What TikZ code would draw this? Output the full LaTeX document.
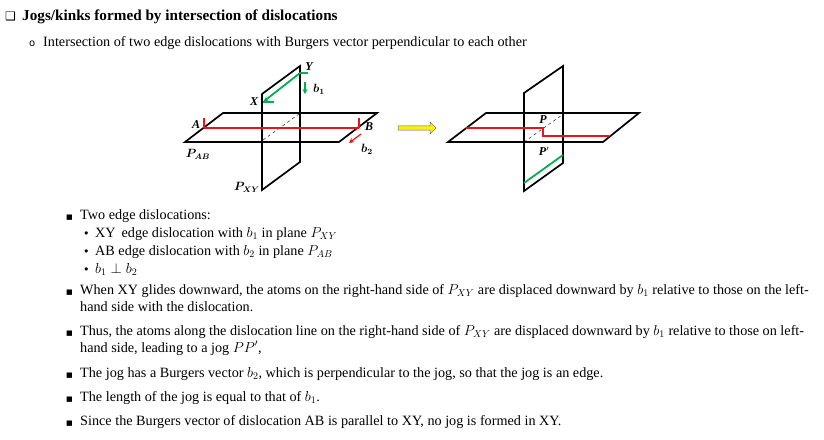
\documentclass[tikz,border=0pt]{standalone}
\usepackage{amsmath,bm}
\usepackage{fontspec}
\setmainfont{Liberation Serif}
\newfontfamily\symf{DejaVu Sans}
\usetikzlibrary{arrows.meta,shapes.arrows}
\definecolor{gr}{RGB}{0,176,80}
\definecolor{rd}{RGB}{235,20,20}
\tikzset{x=1pt,y=-1pt,
 pl/.style={draw=black,line width=1.7pt,line join=miter},
 gl/.style={draw=gr,line width=1.8pt},
 rl/.style={draw=rd,line width=1.8pt},
 lab/.style={font=\fontsize{12}{12}\selectfont\bfseries\itshape,inner sep=0pt},
 tx/.style={anchor=base west,inner sep=0pt,font=\fontsize{14.2}{17}\selectfont,align=left},
 bl/.style={anchor=base west,inner sep=0pt,font=\fontsize{7}{10}\symf}}
\begin{document}
\begin{tikzpicture}
\useasboundingbox (0,0) rectangle (824,439);
% heading
\node[bl,font=\fontsize{12}{12}\symf] (h0) at (5,20) {❑};
\node[tx,font=\fontsize{15.2}{17}\selectfont\bfseries] (h1) at (22,20) {Jogs/kinks formed by intersection of dislocations};
\node[bl,font=\fontsize{10}{10}\symf] (s0) at (29,46) {o};
\node[tx] (s1) at (43,46) {Intersection of two edge dislocations with Burgers vector perpendicular to each other};
% left diagram
\coordinate (v1) at (262,94); \coordinate (v2) at (300,66); \coordinate (v3) at (300,162); \coordinate (v4) at (262,190);
\coordinate (h1a) at (223,113); \coordinate (h2) at (377,113); \coordinate (h3) at (339,142); \coordinate (h4) at (185,142);
\draw[pl] (h1a) -- (h2) -- (h3) -- (h4) -- cycle;
\draw[pl] (v1) -- (v2) -- (v3) -- (v4) -- cycle;
\coordinate (d1) at (263,140); \coordinate (d2) at (299,114);
\draw[dashed,thin] (d1) -- (d2);
\coordinate (A) at (204,128); \coordinate (B) at (359,128);
\draw[rl] (A) -- (B);
\draw[rl] (A) -- ++(0,-10); \draw[rl] (B) -- ++(0,-10);
\coordinate (Y) at (300,73); \coordinate (X) at (263,102);
\draw[gl,-{Stealth[length=6pt]}] (Y) -- (X);
\draw[gl] (Y) -- ++(8,0); \draw[gl] (X) -- ++(11,0);
\coordinate (b1s) at (305,82); \coordinate (b1e) at (305,94);
\draw[gl,line width=1.2pt,-{Stealth[length=5pt,width=5pt]}] (b1s) -- (b1e);
\coordinate (b2s) at (361,134); \coordinate (b2e) at (349,143);
\draw[rl,line width=1.2pt,-{Stealth[length=5pt,width=5pt]}] (b2s) -- (b2e);
\node[lab] (lY) at (309,67) {Y};
\node[lab] (lX) at (254,102) {X};
\node[lab] (lA) at (196,125) {A};
\node[lab] (lB) at (369,127) {B};
\node[lab] (lb1) at (319,89) {$\bm{b_1}$};
\node[lab] (lb2) at (367,149) {$\bm{b_2}$};
\node[lab] (lPAB) at (198,154) {$\bm{P_{AB}}$};
\node[lab] (lPXY) at (247,187) {$\bm{P_{XY}}$};
% yellow arrow
\node[single arrow,draw=gray!70!blue,fill=yellow,minimum width=12pt,minimum height=38pt,single arrow head extend=3pt,inner sep=1.5pt] (ya) at (416,128) {};
% right diagram
\coordinate (w1) at (524,93); \coordinate (w2) at (563,66); \coordinate (w3) at (563,163); \coordinate (w4) at (524,191);
\coordinate (k1) at (486,113); \coordinate (k2) at (639,113); \coordinate (k3) at (603,142); \coordinate (k4) at (448,142);
\draw[pl] (k1) -- (k2) -- (k3) -- (k4) -- cycle;
\draw[pl] (w1) -- (w2) -- (w3) -- (w4) -- cycle;
\coordinate (e1) at (524,142); \coordinate (e2) at (562,115);
\draw[dashed,thin] (e1) -- (e2);
\coordinate (r1) at (466,128); \coordinate (P) at (543,128); \coordinate (Pp) at (543,136); \coordinate (r4) at (609,136);
\draw[rl] (r1) -- (P) -- (Pp) -- (r4);
\coordinate (g1) at (524,183); \coordinate (g2) at (563,155);
\draw[gl] (g1) -- (g2);
\node[lab] (lP) at (543,120) {P};
\node[lab] (lPp) at (544,151) {P$'$};
% bullets
\node[bl] (a0) at (66,219) {■};
\node[tx] (a1) at (80,219) {Two edge dislocations:};
\node[bl,font=\fontsize{11}{11}\symf] (a2) at (83,237) {•};
\node[tx] (a3) at (95,237) {XY \,edge dislocation with $b_1$ in plane $P_{XY}$};
\node[bl,font=\fontsize{11}{11}\symf] (a4) at (83,255) {•};
\node[tx] (a5) at (95,255) {AB edge dislocation with $b_2$ in plane $P_{AB}$};
\node[bl,font=\fontsize{11}{11}\symf] (a6) at (83,273) {•};
\node[tx] (a7) at (95,273) {$b_1 \perp b_2$};
\node[bl] (c0) at (66,294) {■};
\node[tx] (c1) at (80,311) {When XY glides downward, the atoms on the right-hand side of $P_{XY}$ are displaced downward by $b_1$ relative to those on the left-\\hand side with the dislocation.};
\node[bl] (d0) at (66,335) {■};
\node[tx] (d1) at (80,352) {Thus, the atoms along the dislocation line on the right-hand side of $P_{XY}$ are displaced downward by $b_1$ relative to those on left-\\hand side, leading to a jog $PP'$,};
\node[bl] (e0) at (66,377) {■};
\node[tx] (ee1) at (80,377) {The jog has a Burgers vector $b_2$, which is perpendicular to the jog, so that the jog is an edge.};
\node[bl] (f0) at (66,401) {■};
\node[tx] (f1) at (80,401) {The length of the jog is equal to that of $b_1$.};
\node[bl] (g0) at (66,425) {■};
\node[tx] (g1t) at (80,425) {Since the Burgers vector of dislocation AB is parallel to XY, no jog is formed in XY.};
\end{tikzpicture}
\end{document}
